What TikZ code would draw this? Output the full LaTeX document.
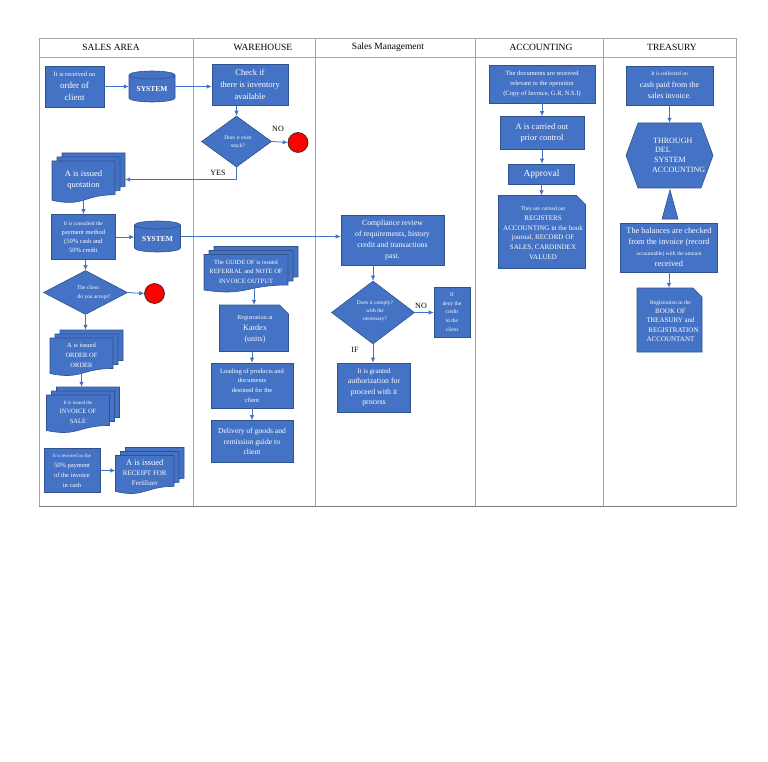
\documentclass[tikz,border=0pt]{standalone}
\usepackage{fontspec}
\setmainfont{Liberation Serif}
\usetikzlibrary{arrows.meta,shapes.geometric,calc}
\definecolor{boxfill}{HTML}{4472C4}
\definecolor{boxline}{HTML}{2F528F}
\definecolor{arrowc}{HTML}{4472C4}
\definecolor{gridc}{HTML}{A6A6A6}
\newcommand\zf[1]{\fontsize{#1}{#1}\selectfont}
\newcommand\bs[1]{\fontsize{7}{#1}\selectfont}
\tikzset{
  bx/.style={draw=boxline, fill=boxfill, line width=0.6pt, text=white, align=center, inner sep=1pt},
  txt/.style={text=white, align=center, inner sep=0pt},
  arr/.style={draw=arrowc, line width=0.8pt, -{Latex[length=5pt,width=4.5pt]}},
  lane/.style={draw=gridc, line width=0.7pt},
  hd/.style={font=\fontsize{9.5}{11}\selectfont, text=black, inner sep=0pt},
  lbl/.style={font=\fontsize{8}{10}\selectfont, text=black, inner sep=0pt},
  stopc/.style={circle, draw=black!85, fill=red, minimum size=20pt, inner sep=0pt, line width=0.6pt},
  dia/.style={diamond, draw=boxline, fill=boxfill, line width=0.6pt, inner sep=0pt},
  shp/.style={draw=boxline, fill=boxfill, line width=0.6pt}
}
% cylinder: name, cx, cy, text (46 x 31)
\newcommand\cyl[4]{%
  \filldraw[shp] ({#2-23},{#3-11.5}) -- ({#2-23},{#3+11.5})
     arc[start angle=180, end angle=0, x radius=23, y radius=4]
     -- ({#2+23},{#3-11.5})
     arc[start angle=0, end angle=-180, x radius=23, y radius=4] -- cycle;
  \draw[draw=boxline, line width=0.6pt] ({#2-23},{#3-11.5})
     arc[start angle=180, end angle=0, x radius=23, y radius=4];
  \node[inner sep=0pt, minimum width=46pt, minimum height=31pt] (#1) at (#2,#3) {};
  \node[txt, font=\zf{7.5}\bfseries] at ({#2},{#3+2.5}) {#4};
}
% single document page: x y w h
\newcommand\onedoc[4]{%
  \filldraw[shp] ({#1},{#2}) -- ({#1+#3},{#2}) -- ({#1+#3},{#2+0.802*#4})
    .. controls ({#1+0.5*#3},{#2+0.802*#4}) and ({#1+0.5*#3},{#2+1.107*#4}) ..
    ({#1},{#2+0.934*#4}) -- cycle;}
% multidocument: name x y w h linespacing text
\newcommand\mdoc[7]{%
  \pgfmathsetmacro\mdw{#4-10}\pgfmathsetmacro\mdh{#5-8}%
  \onedoc{#2+10}{#3}{\mdw}{\mdh}
  \onedoc{#2+5}{#3+4}{\mdw}{\mdh}
  \onedoc{#2}{#3+8}{\mdw}{\mdh}
  \node[inner sep=0pt, minimum width=#4pt, minimum height=#5pt] (#1) at ({#2+#4/2},{#3+#5/2}) {};
  \coordinate (#1-s) at ({#2+\mdw/2},{#3+8+0.92*\mdh});
  \node[txt, font=\bs{#6}] at ({#2+\mdw/2},{#3+8+0.45*\mdh}) {#7};
}
% card (snipped corner): name x y w h linespacing text
\newcommand\card[7]{%
  \filldraw[shp] ({#2},{#3}) -- ({#2+#4-9},{#3}) -- ({#2+#4},{#3+9}) -- ({#2+#4},{#3+#5}) -- ({#2},{#3+#5}) -- cycle;
  \node[inner sep=0pt, minimum width=#4pt, minimum height=#5pt] (#1) at ({#2+#4/2},{#3+#5/2}) {};
  \node[txt, font=\bs{#6}] at ({#2+#4/2+1},{#3+#5/2+1}) {#7};
}
\begin{document}
\begin{tikzpicture}[x=1pt,y=-1pt]
\fill[white] (0,0) rectangle (768,762);
\useasboundingbox (0,0) rectangle (768,762);
% ---- lanes
\draw[lane] (39,38) rectangle (736,506);
\draw[lane] (39,57) -- (736,57);
\foreach \xx in {193,315,475,603} \draw[lane] (\xx,38) -- (\xx,506);
\draw[draw=gray, line width=0.9pt] (39,506) -- (736,506);
\node[hd] (hA) at (111,47.5) {SALES AREA};
\node[hd] (hB) at (263,47.5) {WAREHOUSE};
\node[hd] (hC) at (388,47.5) {Sales Management};
\node[hd] (hD) at (541,47.5) {ACCOUNTING};
\node[hd] (hE) at (672,47.5) {TREASURY};
% ---- SALES AREA
\node[bx, minimum width=59pt, minimum height=41pt, font=\bs{12}] (n1) at (74.5,86.5)
  {{\zf{6.5}It is received on}\\{\zf{9}order of}\\{\zf{9}client}};
\cyl{sys1}{152}{86.5}{SYSTEM}
\mdoc{quo}{52}{153}{73}{50}{11}{{\zf{8.5}A is issued}\\{\zf{8.5}quotation}}
\node[bx, minimum width=64pt, minimum height=45pt, font=\bs{9.2}] (cons) at (83.3,237)
  {{\zf{5.5}It is consulted the}\\{\zf{6.5}payment method}\\{\zf{6.5}(50\% cash and}\\{\zf{6.5}50\% credit}};
\cyl{sys2}{157.5}{236.5}{SYSTEM}
\node[dia, minimum width=84pt, minimum height=44pt] (acc) at (85.5,292.5) {};
\node[txt, font=\bs{9.6}] at (88,292.5) {{\zf{5.5}The client}\\{\zf{5.5}\hspace{12pt}do you accept?}};
\node[stopc] (cir1) at (154.5,293.5) {};
\mdoc{ord}{50}{330}{73}{46}{10}{{\zf{6.5}A is issued}\\{\zf{6.5}ORDER OF}\\{\zf{6.5}ORDER}}
\mdoc{inv}{46.5}{387}{73}{46}{9.5}{{\zf{5}It is issued the}\\{\zf{6.5}INVOICE OF}\\{\zf{6.5}SALE}}
\node[bx, minimum width=56pt, minimum height=44pt, font=\bs{10}] (pay) at (72,470.5)
  {{\zf{4.8}It is received on the}\\{\zf{6.5}50\% payment}\\{\zf{6.5}of the invoice}\\{\zf{6.5}in cash}};
\mdoc{rec}{115.5}{447.5}{68.5}{46.5}{10}{{\zf{8.5}A is issued}\\{\zf{7}RECEIPT FOR}\\{\zf{7}Fertilizer}}
% ---- WAREHOUSE
\node[bx, minimum width=76pt, minimum height=41pt, font=\bs{12}] (chk) at (250,84.5)
  {{\zf{8.5}Check if}\\{\zf{8.5}there is inventory}\\{\zf{8.5}available}};
\node[dia, minimum width=70pt, minimum height=51pt] (stk) at (236.5,141.5) {};
\node[txt, font=\bs{7.5}] at (238,141.5) {{\zf{5.5}Does it exist}\\{\zf{5.5}stock?}};
\node[stopc] (cir2) at (298,142.5) {};
\mdoc{gd}{204}{246.5}{94}{46}{9.5}{{\zf{6.3}The GUIDE OF is issued}\\{\zf{6.5}REFERRAL and NOTE OF}\\{\zf{6.5}INVOICE OUTPUT}}
\card{kdx}{219.5}{305}{69}{46.5}{11.3}{{\zf{6}Registration at}\\{\zf{8}Kardex}\\{\zf{8}(units)}}
\node[bx, minimum width=82pt, minimum height=45pt, font=\bs{9.7}] (load) at (252,385.5)
  {{\zf{6.5}Loading of products and}\\{\zf{6.5}documents}\\{\zf{6.5}destined for the}\\{\zf{6.5}client}};
\node[bx, minimum width=82pt, minimum height=42pt, font=\bs{10.2}] (dlv) at (252,441.5)
  {{\zf{7.6}Delivery of goods and}\\{\zf{7.6}remission guide to}\\{\zf{7.6}client}};
% ---- SALES MANAGEMENT
\node[bx, minimum width=103pt, minimum height=50pt, font=\bs{10.8}] (comp) at (392.5,240)
  {{\zf{7.8}Compliance review}\\{\zf{7.8}of requirements, history}\\{\zf{7.8}credit and transactions}\\{\zf{7.8}past.}};
\node[dia, minimum width=83pt, minimum height=63pt] (cmp) at (373,312.5) {};
\node[txt, font=\bs{8}] at (375,311.5) {{\zf{5.5}Does it comply?}\\{\zf{5.5}with the}\\{\zf{5.5}necessary?}};
\node[bx, minimum width=36pt, minimum height=50pt, font=\bs{8.7}] (deny) at (452,312)
  {{\zf{5.5}If}\\{\zf{5.5}deny the}\\{\zf{5.5}credit}\\{\zf{5.5}to the}\\{\zf{5.5}client}};
\node[bx, minimum width=73pt, minimum height=49pt, font=\bs{10.5}] (grant) at (374,387.5)
  {{\zf{7}It is granted}\\{\zf{7.8}authorization for}\\{\zf{7.8}proceed with it}\\{\zf{7.8}process}};
% ---- ACCOUNTING
\node[bx, minimum width=106pt, minimum height=38pt, font=\bs{10}] (doc) at (542,84)
  {{\zf{6.5}The documents are received}\\{\zf{6.5}relevant to the operation}\\{\zf{6.5}(Copy of Invoice, G.R, N.S.I)}};
\node[bx, minimum width=84pt, minimum height=33pt, font=\bs{10.7}] (ctrl) at (542,133)
  {{\zf{8.5}A is carried out}\\{\zf{8.5}prior control}};
\node[bx, minimum width=66pt, minimum height=20pt] (appr) at (541.5,174) {{\zf{9.5}Approval}};
\card{acard}{498.5}{195.5}{87}{73}{9.7}{{\zf{5.5}They are carried out}\\{\zf{7}REGISTERS}\\{\zf{7}ACCOUNTING in the book}\\{\zf{7}journal, RECORD OF}\\{\zf{7}SALES, CARDINDEX}\\{\zf{7}VALUED}}
% ---- TREASURY
\node[bx, minimum width=87pt, minimum height=39pt, font=\bs{11.5}] (colb) at (669.5,85.5)
  {{\zf{5.5}It is collected on}\\{\zf{8}cash paid from the}\\{\zf{8}sales invoice.}};
\filldraw[shp] (626,155.5) -- (638,123) -- (701,123) -- (713,155.5) -- (701,188) -- (638,188) -- cycle;
\node[inner sep=0pt, minimum width=87pt, minimum height=65pt] (hex) at (669.5,155.5) {};
\node[txt, align=left, anchor=west, font=\bs{9.7}] at (652,155) {{\zf{8}\hspace{1pt}THROUGH}\\{\zf{8}\hspace{3pt}DEL}\\{\zf{8}\hspace{2pt}SYSTEM}\\{\zf{8}ACCOUNTING}};
\filldraw[shp] (662,219) -- (670,190) -- (678,219) -- cycle;
\node[bx, minimum width=97pt, minimum height=49pt, font=\bs{11}] (bal) at (669,247.5)
  {{\zf{8.3}The balances are checked}\\{\zf{8.3}from the invoice (record}\\{\zf{5.5}accountable) with the amount}\\{\zf{8.3}received}};
\card{reg}{637}{288}{65}{64}{9.2}{{\zf{5.5}Registration in the}\\{\zf{7}BOOK OF}\\{\zf{7}TREASURY and}\\{\zf{7}\hspace{6pt}REGISTRATION}\\{\zf{7}ACCOUNTANT}}
% ---- labels
\node[lbl] (noA) at (278,129) {NO};
\node[lbl] (yesA) at (218,172.5) {YES};
\node[lbl] (noB) at (421,305.5) {NO};
\node[lbl] (ifB) at (355,350) {IF};
% ---- connectors
\draw[arr] (n1.east) -- (n1.east -| sys1.west);
\draw[arr] (sys1.east) -- (sys1.east -| chk.west);
\draw[arr] (stk.north |- chk.south) -- (stk.north);
\draw[arr] (stk.east) -- (cir2.west);
\draw[arr] (stk.south) |- ($(quo.east)+(0,1.5)$);
\draw[arr] (quo-s) -- (quo-s |- cons.north);
\draw[arr] (cons.east) -- (cons.east -| sys2.west);
\draw[arr] (sys2.east) -- (sys2.east -| comp.west);
\draw[arr] (acc.north |- cons.south) -- (acc.north);
\draw[arr] (acc.east) -- (cir1.west);
\draw[arr] (acc.south) -- (acc.south |- ord.north);
\draw[arr] (ord-s) -- (ord-s |- inv.north);
\draw[arr] (pay.east) -- (pay.east -| rec.west);
\draw[arr] (gd-s -| kdx.north) -- (kdx.north);
\draw[arr] (load.north |- kdx.south) -- (load.north);
\draw[arr] (load.south) -- (dlv.north);
\draw[arr] (cmp.north |- comp.south) -- (cmp.north);
\draw[arr] (cmp.east) -- (cmp.east -| deny.west);
\draw[arr] (cmp.south) -- (cmp.south |- grant.north);
\draw[arr] (ctrl.north |- doc.south) -- (ctrl.north);
\draw[arr] (ctrl.south) -- (ctrl.south |- appr.north);
\draw[arr] (appr.south) -- (appr.south |- acard.north);
\draw[arr] (colb.south) -- (colb.south |- hex.north);
\draw[arr] (bal.south) -- (bal.south |- reg.north);
\end{tikzpicture}
\end{document}
